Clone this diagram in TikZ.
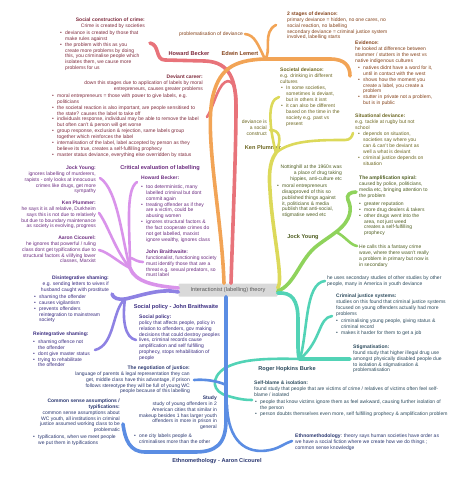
\documentclass[tikz,border=0pt]{standalone}
\usepackage{fontspec}
\setmainfont{Liberation Sans}
\definecolor{redln}{HTML}{E8737A}
\definecolor{redtx}{HTML}{7E2A3C}
\definecolor{orgln}{HTML}{F2A456}
\definecolor{orgtx}{HTML}{84421A}
\definecolor{yelln}{HTML}{DCD95A}
\definecolor{yeltx}{HTML}{6B6620}
\definecolor{grnln}{HTML}{8FD35C}
\definecolor{grntx}{HTML}{4F5E22}
\definecolor{tealn}{HTML}{52D3B6}
\definecolor{teatx}{HTML}{2B4A5C}
\definecolor{bluln}{HTML}{5B8DE3}
\definecolor{blutx}{HTML}{2A3770}
\definecolor{purln}{HTML}{8E82E3}
\definecolor{purtx}{HTML}{3A2C80}
\definecolor{violn}{HTML}{D993EA}
\definecolor{viotx}{HTML}{6B2C80}
\newcommand{\bul}{\makebox[5pt][l]{\textbullet}}
\newcommand{\ind}{\hspace*{5pt}}
\begin{document}
\begin{tikzpicture}[x=1pt,y=-1pt,
    hub/.style ={fill=black!15, text=black!65, rounded corners=1pt,
      minimum width=99pt, minimum height=13pt, inner sep=0pt,
      font=\fontsize{5.6}{6}\selectfont},
    lbl/.style ={inner sep=0pt, font=\fontsize{5.6}{6}\selectfont\bfseries},
    txt/.style ={inner sep=0pt, align=left, anchor=north west,
      font=\fontsize{5}{5.9}\selectfont},
    txtr/.style ={txt, align=right, anchor=north east},
    branch/.style ={line width=3.6pt, line cap=round},
    twig/.style ={line width=2.6pt, line cap=round}]
   \useasboundingbox (0,0) rectangle (474,479);
   \node[hub] (hub) at (228,290) {Interactionist (labelling) theory};

   % branch labels
   \node[lbl, text=redtx] (becker) at (189,53) {Howard Becker};
   \node[lbl, text=orgtx] (lemert) at (240,53) {Edwin Lemert};
   \node[lbl, text=yeltx] (plummer) at (263,147) {Ken Plummer};
   \node[lbl, text=grntx] (young) at (303,237) {Jock Young};
   \node[lbl, text=teatx] (burke) at (287,369) {Roger Hopkins Burke};
   \node[lbl, text=blutx] (cicourel) at (217,461) {Ethnomethology - Aaron Cicourel};
   \node[lbl, text=purtx] (braith) at (176,307) {Social policy - John Braithwaite};
   \node[lbl, text=viotx] (critical) at (160,168) {Critical evaluation of labelling};

   % Howard Becker
   \node[txtr, text=redtx] (crimehd) at (145,17.5) {\textbf{Social construction of crime:}\\Crime is created by societies};
   \node[txt, text=redtx] (crimebl) at (60,30.5) {\bul deviance is created by those that\\\ind make rules against\\\bul the problem with this as you\\\ind create more problems by doing\\\ind this, you criminalise people which\\\ind isolates them, we cause more\\\ind problems for us};
   \node[txtr, text=redtx] (careerhd) at (203,74.5) {\textbf{Deviant career:}\\down this stages due to application of labels by moral\\entrepreneurs, causes greater problems};
   \node[txt, text=redtx] (careerbl) at (52,93.5) {\bul moral entrepreneurs = those with power to give labels, e.g.\\\ind politicians\\\bul the societal reaction is also important, are people sensitised to\\\ind the state? causes the label to take off\\\bul individuals response, individual may be able to remove the label\\\ind but often can't \& person will get worse\\\bul group response, exclusion \& rejection, same labels group\\\ind together which reinforces the label\\\bul internalisation of the label, label accepted by person as they\\\ind believe its true, creates a self-fulfilling prophecy\\\bul master status deviance, everything else overridden by status};

   % Edwin Lemert
   \node[txt, text=orgtx, anchor=east] (probl) at (243,34) {problematisation of deviance};
   \node[txt, text=orgtx] (stages) at (287,11.5) {\textbf{2 stages of deviance:}\\primary deviance = hidden, no one cares, no\\social reaction, no labelling\\secondary deviance = criminal justice system\\involved, labelling starts};
   \node[txt, text=orgtx] (evidhd) at (355,40.5) {\textbf{Evidence:}\\he looked at difference between\\stammer / stutters in the west vs\\native indigenous cultures};
   \node[txt, text=orgtx] (evidbl) at (358,65.5) {\bul natives didnt have a word for it,\\\ind until in contact with the west\\\bul shows how the moment you\\\ind create a label, you create a\\\ind problem\\\bul stutter in private not a problem,\\\ind but is in public};

   % Ken Plummer
   \node[txt, text=yeltx] (sochd) at (280,67.5) {\textbf{Societal deviance:}\\e.g. drinking in different\\cultures};
   \node[txt, text=yeltx] (socbl) at (281,86) {\bul In some societies,\\\ind sometimes is deviant,\\\ind but in others it isnt\\\bul it can also be different\\\ind based on the time in the\\\ind society e.g. past vs\\\ind present};
   \node[txt, text=yeltx] (situhd) at (355,113.5) {\textbf{Situational deviance:}\\e.g. tackle at rugby but not\\school};
   \node[txt, text=yeltx] (situbl) at (358,132) {\bul depends on situation,\\\ind societies say where you\\\ind can \& can't be deviant as\\\ind well a what is deviant\\\bul criminal justice depends on\\\ind situation};
   \node[txtr, text=yeltx] (constr) at (267,119.5) {deviance is\\a social\\construct};

   % Jock Young
   \node[txtr, text=grntx] (nottshd) at (342,164.5) {Nottinghill at the 1960s was\\a place of drug taking\\hippies, anti-culture etc};
   \node[txt, text=grntx] (nottsbl) at (277,183.5) {\bul moral entrepreneurs\\\ind disapproved of this so\\\ind published things against\\\ind it, politicians \& media\\\ind publish that anti-social,\\\ind stigmatise weed etc};
   \node[txt, text=grntx] (amplhd) at (359,175.5) {\textbf{The amplification spiral:}\\caused by police, politicians,\\media etc, bringing attention to\\the problem};
   \node[txt, text=grntx] (amplbl) at (359,201.5) {\bul greater reputation\\\bul more drug dealers \& takers\\\bul other drugs went into the\\\ind area, not just weed\\\ind creates a self-fulfilling\\\ind prophecy};
   \node[txt, text=grntx] (fantasy) at (359,244.5) {He calls this a fantasy crime\\wave, where there wasn't really\\a problem in primary but now is\\in secondary};

   % Roger Hopkins Burke
   \node[txt, text=teatx] (second) at (327,275.5) {he uses secondary studies of other studies by other\\people, many in America in youth deviance};
   \node[txt, text=teatx] (cjshd) at (336,293.5) {\textbf{Criminal justice systems:}\\studies on this found that criminal justice systems\\focused on young offenders actually had more\\problems};
   \node[txt, text=teatx] (cjsbl) at (336,318.5) {\bul criminalising young people, giving status \&\\\ind criminal record\\\bul makes it harder for them to get a job};
   \node[txt, text=teatx] (stigma) at (353,344.5) {\textbf{Stigmatisation:}\\found study that higher illegal drug use\\amongst physically disabled people due\\to isolation \& stigmatisation \&\\problematisation};
   \node[txt, text=teatx] (selfhd) at (254,380.5) {\textbf{Self-blame \& isolation:}\\found study that people that are victims of crime / relatives of victims often feel self-\\blame / isolated};
   \node[txt, text=teatx] (selfbl) at (255,400) {\bul people that know victims ignore them as feel awkward, causing further isolation of\\\ind the person\\\bul person doubts themselves even more, self fulfilling prophecy \& amplification problem};

   % Aaron Cicourel
   \node[txt, text=blutx] (ethno) at (295,433.5) {\textbf{Ethnomethodology}: theory says human societies have order as\\we have a social fiction where we create how we do things ;\\common sense knowledge};
   \node[txtr, text=blutx] (negot) at (190,365.5) {\textbf{The negotiation of justice:}\\language of parents \& legal representation they can\\get, middle class have this advantage, if prison\\follows stereotype they will be full of young WC\\people because of this labelling};
   \node[txtr, text=blutx] (studyhd) at (217,395.5) {\textbf{Study}\\study of young offenders in 2\\American cities that similar in\\makeup besides 1 has larger youth\\offenders in more in prison in\\general};
   \node[txt, text=blutx] (studybl) at (134,433.5) {\bul one city labels people \&\\\ind criminalises more than the other};
   \node[txtr, text=blutx] (commonhd) at (120,398.5) {\textbf{Common sense assumptions /}\\\textbf{typifications:}\\common sense assumptions about\\WC youth, all institutions in criminal\\justice assumed working class to be\\problematic};
   \node[txt, text=blutx] (commonbl) at (33,434.5) {\bul typifications, when we meet people\\\ind we put them in typifications};

   % John Braithwaite
   \node[txt, text=purtx] (policy) at (139,314.5) {\textbf{Social policy:}\\policy that affects people, policy in\\relation to offenders, gov making\\decisions that could destroy peoples\\lives, criminal records cause\\amplification and self fulfilling\\prophecy, stops rehabilitation of\\people};
   \node[txtr, text=purtx] (disinthd) at (109,275.5) {\textbf{Disintegrative shaming:}\\e.g. sending letters to wives if\\husband caught with prostitute};
   \node[txt, text=purtx] (disintbl) at (34,294.5) {\bul shaming the offender\\\bul causes vigilantism\\\bul prevents offenders\\\ind reintegration to mainstream\\\ind society};
   \node[txt, text=purtx] (reinthd) at (33,331.5) {\textbf{Reintegrative shaming:}};
   \node[txt, text=purtx] (reintbl) at (33,339.5) {\bul shaming offence not\\\ind the offender\\\bul dont give master status\\\bul trying to rehabilitate\\\ind the offender};

   % critical evaluation
   \node[txtr, text=viotx] (cyoung) at (96,165.5) {\textbf{Jock Young:}\\ignores labelling of murderers,\\rapists - only looks at innocuous\\crimes like drugs, get more\\sympathy};
   \node[txtr, text=viotx] (cplummer) at (96,200.5) {\textbf{Ken Plummer:}\\he says it is all relative, Durkheim\\says this is not due to relatively\\but due to boundary maintenance\\as society is evolving, progress};
   \node[txtr, text=viotx] (ccicourel) at (96,235.5) {\textbf{Aaron Cicourel:}\\he ignores that powerful / ruling\\class dont get typifications due to\\structural factors \& vilifying lower\\classes, Marxist};
   \node[txt, text=viotx] (cbeckerhd) at (141,176) {\textbf{Howard Becker:}};
   \node[txt, text=viotx] (cbeckerbl) at (141,184.5) {\bul too deterministic, many\\\ind labelled criminal but dont\\\ind commit again\\\bul treating offender as if they\\\ind are a victim, could be\\\ind abusing women\\\bul ignores structural factors \&\\\ind the fact cooperate crimes do\\\ind not get labelled, marxist\\\ind ignore wealthy, ignores class};
   \node[txt, text=viotx] (cbraith) at (146,249.5) {\textbf{John Braithwaite:}\\functionalist, functioning society\\must identify those that are a\\threat e.g. sexual predators, so\\must label};

   % branch ends
   \coordinate (redfork) at (236,108);
   \coordinate (crime) at (150,43);
   \coordinate (career) at (207,117);
   \coordinate (lemfork) at (265,59);
   \coordinate (evid) at (350,76);
   \coordinate (stg) at (276,25);
   \coordinate (prb) at (245,34);
   \coordinate (yfork) at (276,153);
   \coordinate (soc) at (279,97);
   \coordinate (cst) at (270,130);
   \coordinate (sit) at (353,133);
   \coordinate (gfork) at (336,232);
   \coordinate (amp) at (356,192);
   \coordinate (fan) at (357,246);
   \coordinate (tfork) at (300,359);
   \coordinate (sec) at (325,281);
   \coordinate (cjs) at (332,316);
   \coordinate (stg2) at (350,359);
   \coordinate (slf) at (252,400);
   \coordinate (bfork) at (226,385);
   \coordinate (bfork2) at (227,405);
   \coordinate (neg) at (194,380);
   \coordinate (eth) at (292,441);
   \coordinate (com) at (123,424);
   \coordinate (pfork) at (125,299);
   \coordinate (dis) at (112,294);
   \coordinate (rei) at (95,350);
   \coordinate (pol) at (136,340);
   \coordinate (vfork) at (130,268);
   \coordinate (vjock) at (100,178);
   \coordinate (vken) at (99,213);
   \coordinate (vaaron) at (99,250);
   \coordinate (vbecker) at (137,182);
   \coordinate (vbraith) at (143,262);

   % Howard Becker branch
   \draw[branch, redln] ([xshift=3pt]hub.north) .. controls (233,220) and (236,150) .. (redfork)
     .. controls (236,80) and (230,62) .. (205,61) -- (165,60) .. controls (155,60) and (160,45) .. (crime);
   \draw[twig, redln] (redfork) .. controls (238,85) and (230,75) .. (222,85) .. controls (215,95) and (212,110) .. (career);
   % Edwin Lemert branch
   \draw[branch, orgln] ([xshift=-4pt]hub.north) .. controls (222,220) and (205,140) .. (212,100)
     .. controls (218,70) and (232,60) .. (lemfork) -- (330,59) .. controls (345,59) and (350,66) .. (evid);
   \draw[twig, orgln] (lemfork) .. controls (272,52) and (262,32) .. (stg);
   \draw[twig, orgln] (lemfork) .. controls (258,45) and (255,35) .. (prb);
   % Ken Plummer branch
   \draw[branch, yelln] ([yshift=2pt]hub.east) .. controls (284,280) and (272,230) .. (270,190)
     .. controls (268,168) and (272,158) .. (yfork);
   \draw[twig, yelln] (yfork) .. controls (270,130) and (266,100) .. (soc);
   \draw[twig, yelln] (yfork) .. controls (282,138) and (280,130) .. (cst);
   \draw[twig, yelln] (yfork) .. controls (290,140) and (320,140) .. (345,140) .. controls (350,140) and (352,137) .. (sit);
   % Jock Young branch
   \draw[branch, grnln] ([yshift=-1pt]hub.east) .. controls (295,285) and (300,258) .. (318,245)
     .. controls (326,239) and (331,236) .. (gfork) .. controls (352,220) and (352,208) .. (348,200)
     .. controls (346,195) and (350,192) .. (amp);
   \draw[twig, grnln] (gfork) .. controls (345,236) and (350,245) .. (fan);
   % Roger Hopkins Burke branch
   \draw[branch, tealn] ([yshift=-3pt]hub.east) .. controls (292,292) and (298,300) .. (298,320)
     -- (298,345) .. controls (298,355) and (299,359) .. (tfork) -- (stg2);
   \draw[twig, tealn] (tfork) .. controls (308,330) and (305,283) .. (sec);
   \draw[twig, tealn] (tfork) .. controls (322,340) and (318,318) .. (cjs);
   \draw[twig, tealn] (tfork) .. controls (260,358) and (240,360) .. (225,368)
     .. controls (210,378) and (212,392) .. (228,396) .. controls (238,399) and (245,400) .. (slf);
   % Aaron Cicourel branch
   \draw[branch, bluln] ([xshift=-2pt]hub.south) -- (bfork) -- (226,420) .. controls (226,445) and (215,452) .. (195,452)
     -- (145,452) .. controls (130,452) and (125,440) .. (com);
   \draw[twig, bluln] (bfork) .. controls (218,381) and (205,379) .. (neg);
   \draw[twig, bluln] (bfork2) .. controls (228,440) and (245,455) .. (270,450) .. controls (280,448) and (285,443) .. (eth);
   % John Braithwaite branch
   \draw[branch, purln] ([yshift=-2pt]hub.west) .. controls (160,288) and (140,296) .. (pfork)
     .. controls (118,300) and (113,298) .. (dis);
   \draw[twig, purln] (pfork) .. controls (112,310) and (115,345) .. (rei);
   \draw[twig, purln] (pfork) .. controls (122,320) and (125,338) .. (pol);
   % critical evaluation branch
   \draw[branch, violn] ([yshift=2pt]hub.west) .. controls (155,286) and (135,282) .. (vfork);
   \draw[twig, violn] (vfork) .. controls (122,240) and (118,190) .. (vjock);
   \draw[twig, violn] (vfork) .. controls (115,250) and (108,225) .. (vken);
   \draw[twig, violn] (vfork) .. controls (118,262) and (108,252) .. (vaaron);
   \draw[twig, violn] (vfork) .. controls (130,230) and (125,190) .. (vbecker);
   \draw[twig, violn] (vfork) .. controls (128,250) and (132,262) .. (vbraith);
\end{tikzpicture}
\end{document}
